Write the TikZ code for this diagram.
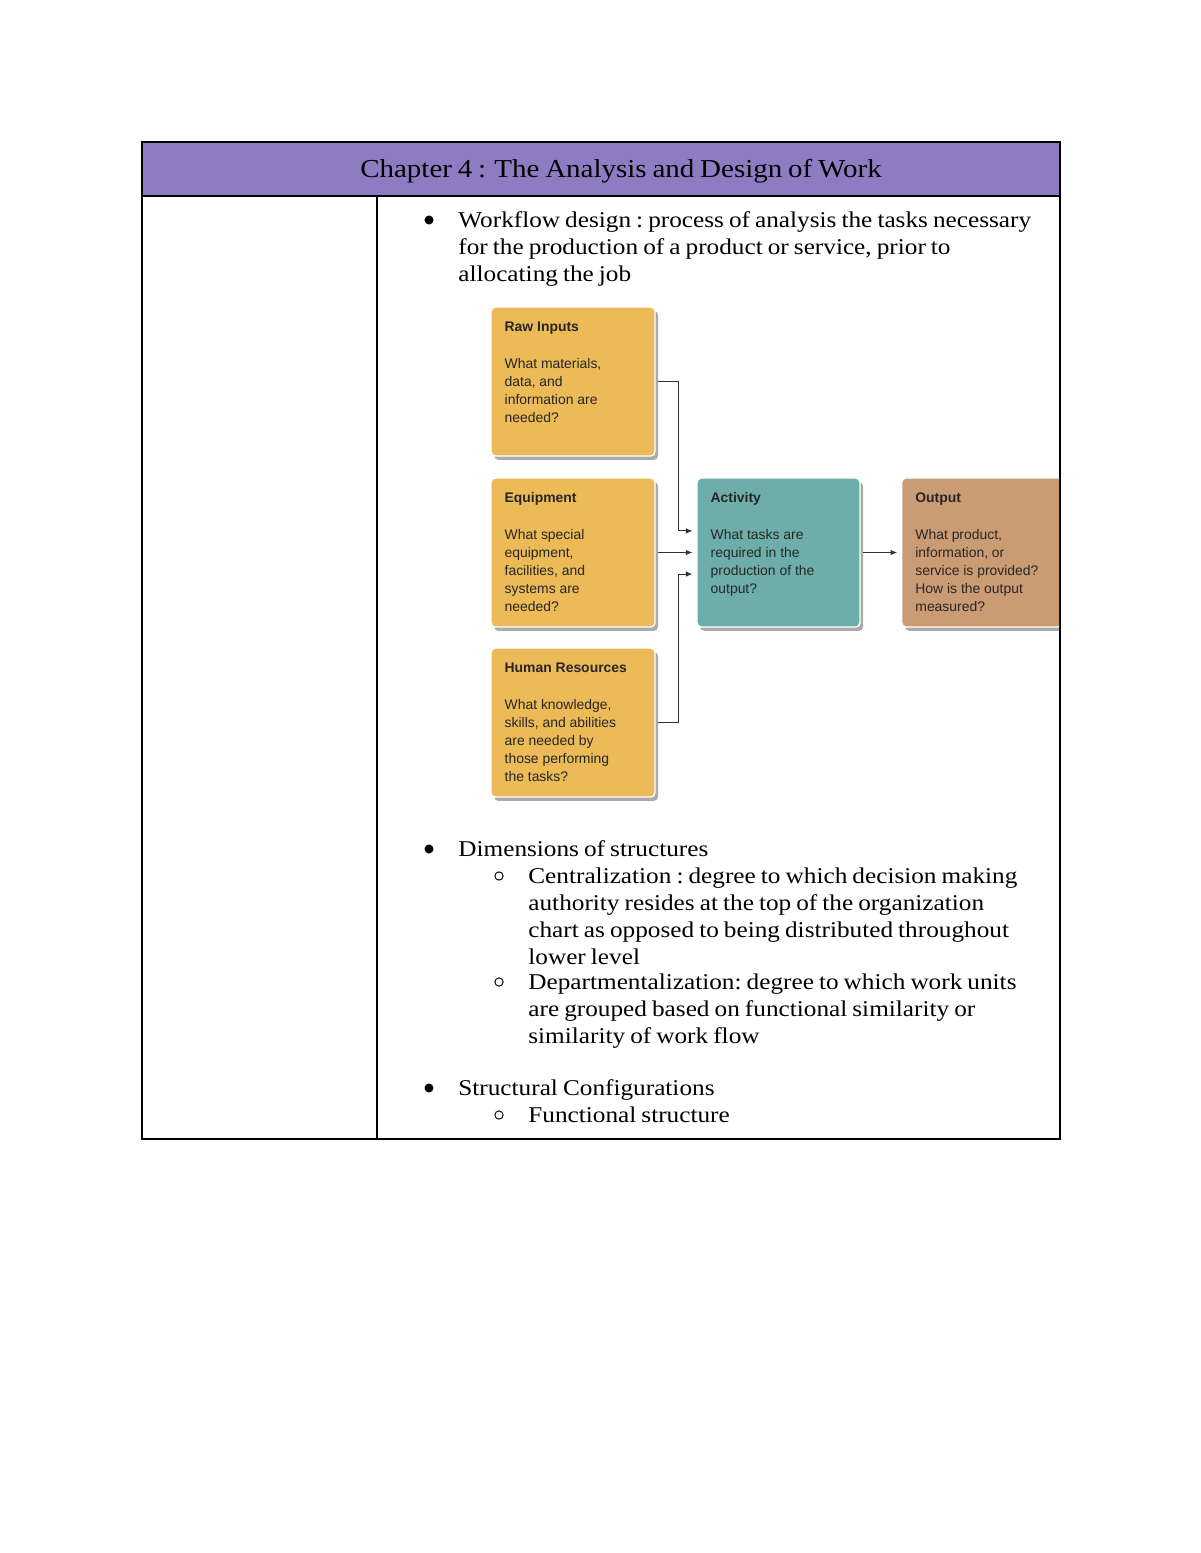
\documentclass[tikz,border=0pt]{standalone}
\usepackage{fontspec}
\setmainfont[FakeStretch=1.12,WordSpace=0.8]{Liberation Serif}
\newfontfamily\cardfont{Liberation Sans}
\usetikzlibrary{arrows.meta,shadows}
\definecolor{headpurple}{RGB}{142,124,195}
\definecolor{inputyellow}{RGB}{236,186,86}
\definecolor{activityteal}{RGB}{110,174,170}
\definecolor{outputtan}{RGB}{203,156,116}
\tikzset{
  body/.style={anchor=base west, inner sep=0pt, text width=310pt,
    font=\fontsize{11.5}{13.8}\selectfont,
    execute at begin node={\spaceskip=0pt\xspaceskip=0pt\frenchspacing}},
  card/.style={rounded corners=2.2pt, draw=white, line width=0.7pt,
    minimum width=83.6pt, minimum height=76pt,
    drop shadow={shadow xshift=1.6pt, shadow yshift=-2pt, fill=black!55, opacity=.6}},
  cardtext/.style={anchor=base west, inner sep=0pt, text width=80pt,
    text=black!85, font=\cardfont\fontsize{7.1}{9.2}\selectfont,
    execute at begin node={\spaceskip=0pt\xspaceskip=0pt\frenchspacing}},
  flow/.style={draw=black!80, line width=0.55pt, -{Latex[length=3.3pt,width=2.8pt]}},
}
\begin{document}
\begin{tikzpicture}[x=0.51pt,y=-0.51pt]
  \useasboundingbox (0,0) rectangle (1200,1553);
  % table
  \fill[headpurple] (142,142) rectangle (1060,196);
  \node[font=\fontsize{13.2}{15}\selectfont] (chapter) at (621,171) {Chapter 4 : The Analysis and Design of Work};
  \draw[line width=1.1pt] (142,142) rectangle (1060,1139);
  \draw[line width=1.1pt] (142,196) -- (1060,196);
  \draw[line width=1.1pt] (377,196) -- (377,1139);

  % first bullet
  \fill (429,220) circle[radius=2.3pt];
  \node[body] (workflow) at (458,227) {Workflow design : process of analysis the tasks necessary\\
    for the production of a product or service, prior to\\ allocating the job};

  % workflow cards
  \node[card, fill=inputyellow] (raw) at (573,381.5) {};
  \node[card, fill=inputyellow] (equip) at (573,552.5) {};
  \node[card, fill=inputyellow] (hr) at (573,722.5) {};
  \node[card, fill=activityteal, minimum width=83.1pt] (act) at (778.5,552.5) {};
  \begin{scope}
    \clip (0,0) rectangle (1059,1553);
    \node[card, fill=outputtan, minimum width=90pt] (out) at (990,552.5) {};
  \end{scope}

  \node[cardtext] (rawtext) at ([xshift=7.1pt,yshift=-13pt]raw.north west)
    {\textbf{Raw Inputs}\\[9.6pt]What materials,\\data, and\\information are\\needed?};
  \node[cardtext] (equiptext) at ([xshift=7.1pt,yshift=-13pt]equip.north west)
    {\textbf{Equipment}\\[9.6pt]What special\\equipment,\\facilities, and\\systems are\\needed?};
  \node[cardtext] (hrtext) at ([xshift=7.1pt,yshift=-13pt]hr.north west)
    {\textbf{Human Resources}\\[9.6pt]What knowledge,\\skills, and abilities\\are needed by\\those performing\\the tasks?};
  \node[cardtext] (acttext) at ([xshift=7.1pt,yshift=-13pt]act.north west)
    {\textbf{Activity}\\[9.6pt]What tasks are\\required in the\\production of the\\output?};
  \node[cardtext] (outtext) at ([xshift=7.1pt,yshift=-13pt]out.north west)
    {\textbf{Output}\\[9.6pt]What product,\\information, or\\service is provided?\\How is the output\\measured?};

  % connectors
  \draw[flow] ([xshift=1pt]raw.east) -- ++(21,0) |- ([xshift=-2pt,yshift=11pt]act.west);
  \draw[flow] ([xshift=1pt]equip.east) -- ([xshift=-2pt]act.west);
  \draw[flow] ([xshift=1pt]hr.east) -- ++(21,0) |- ([xshift=-2pt,yshift=-11pt]act.west);
  \draw[flow] ([xshift=1pt]act.east) -- ([xshift=-2pt]out.west);

  % second bullet
  \fill (429,849) circle[radius=2.3pt];
  \node[body] (dimensions) at (458,856) {Dimensions of structures};
  \draw[line width=0.5pt] (499,876) circle[radius=2.1pt];
  \node[body] (central) at (528,883) {Centralization : degree to which decision making\\
    authority resides at the top of the organization\\
    chart as opposed to being distributed throughout\\ lower level};
  \draw[line width=0.5pt] (499,982) circle[radius=2.1pt];
  \node[body] (depart) at (528,989) {Departmentalization: degree to which work units\\
    are grouped based on functional similarity or\\ similarity of work flow};

  % third bullet
  \fill (429,1088) circle[radius=2.3pt];
  \node[body] (configs) at (458,1095) {Structural Configurations};
  \draw[line width=0.5pt] (499,1115) circle[radius=2.1pt];
  \node[body] (functional) at (528,1122) {Functional structure};
\end{tikzpicture}
\end{document}
